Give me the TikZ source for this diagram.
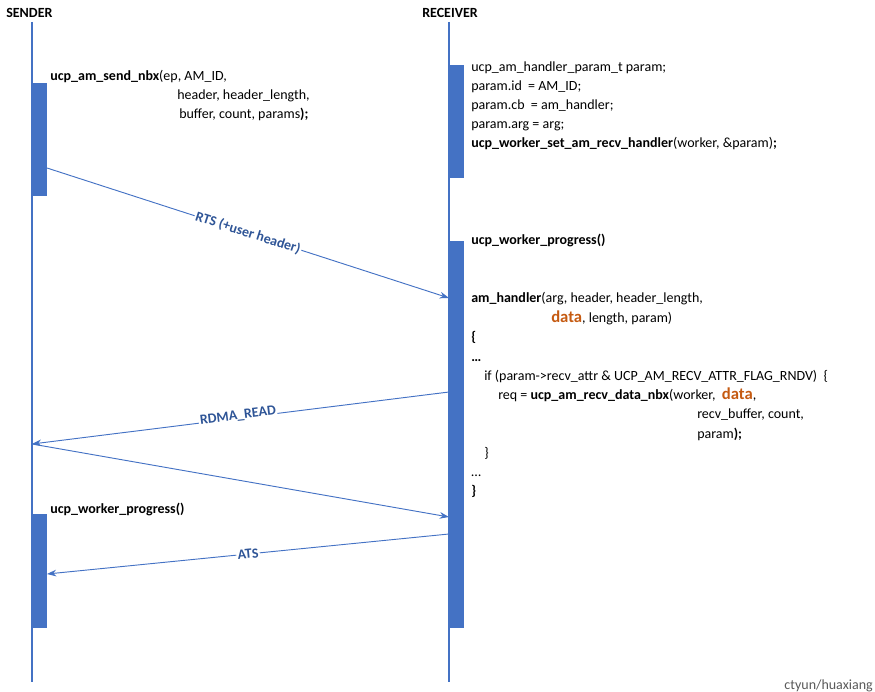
\documentclass[tikz,border=0pt]{standalone}
\usepackage{fontspec}
\setmainfont{Carlito}
\usetikzlibrary{arrows.meta}
\definecolor{bar}{HTML}{4472C4}
\definecolor{lbl}{HTML}{2F5597}
\definecolor{org}{HTML}{C55A11}
\begin{document}
\begin{tikzpicture}[x=0.75pt,y=-0.75pt,
  life/.style={draw=bar,line width=0.9pt},
  act/.style={fill=bar,draw=none},
  msg/.style={draw=bar,line width=0.7pt,-{Stealth[length=7pt,width=5pt]}},
  txt/.style={anchor=base west,inner sep=0pt,font=\fontsize{10.5pt}{12pt}\selectfont},
  mlbl/.style={font=\bfseries\fontsize{10.5pt}{12pt}\selectfont,text=lbl,fill=white,inner sep=1pt}]
\useasboundingbox (0,0) rectangle (875,692);
\node[txt,font=\bfseries\fontsize{10.5pt}{12pt}\selectfont] (s) at (6,18) {SENDER};
\node[txt,font=\bfseries\fontsize{10.5pt}{12pt}\selectfont] (r) at (422,18) {RECEIVER};
\coordinate (st) at (32,22); \coordinate (sb) at (32,682);
\coordinate (rt) at (449,22); \coordinate (rb) at (449,682);
\draw[life] (st) -- (sb);
\draw[life] (rt) -- (rb);
\fill[act] (32,83) rectangle (47,196);
\fill[act] (32,514) rectangle (47,628);
\fill[act] (449,65) rectangle (464,178);
\fill[act] (449,241) rectangle (464,628);
% sender text
\node[txt] (t1) at (50,80) {\textbf{ucp\_am\_send\_nbx}(ep, AM\_ID,};
\node[txt] (t2) at (177,99) {header, header\_length,};
\node[txt] (t3) at (179,118) {buffer, count, params\textbf{);}};
% receiver text
\node[txt] (r1) at (471,72) {ucp\_am\_handler\_param\_t param;};
\node[txt] (r2) at (471,91) {param.id\ \ = AM\_ID;};
\node[txt] (r3) at (471,109) {param.cb\ \ = am\_handler;};
\node[txt] (r4) at (471,128) {param.arg = arg;};
\node[txt] (r5) at (471,147) {\textbf{ucp\_worker\_set\_am\_recv\_handler}(worker, \&param)\textbf{;}};
\node[txt] (p1) at (471,244) {\textbf{ucp\_worker\_progress()}};
\node[txt] (h1) at (471,302) {\textbf{am\_handler}(arg, header, header\_length,};
\node[txt] (h2) at (551,322) {{\color{org}\bfseries\fontsize{12.5pt}{12pt}\selectfont data}, length, param)};
\node[txt] (h3) at (471,341) {\textbf{\{}};
\node[txt] (h4) at (471,361) {\textbf{…}};
\node[txt] (h5) at (484,380) {if (param->recv\_attr \& UCP\_AM\_RECV\_ATTR\_FLAG\_RNDV)\ \ \{};
\node[txt] (h6) at (498,399) {req = \textbf{ucp\_am\_recv\_data\_nbx}(worker,\ \ {\color{org}\bfseries\fontsize{12.5pt}{12pt}\selectfont data},};
\node[txt] (h7) at (697,418) {recv\_buffer, count,};
\node[txt] (h8) at (697,438) {param\textbf{);}};
\node[txt] (h9) at (484,457) {\}};
\node[txt] (h10) at (471,476) {…};
\node[txt] (h11) at (471,495) {\textbf{\}}};
\node[txt] (p2) at (50,513) {\textbf{ucp\_worker\_progress()}};
% messages
\coordinate (a1) at (47,168); \coordinate (a2) at (449,298);
\coordinate (b1) at (449,392); \coordinate (b2) at (32,444);
\coordinate (c2) at (449,517);
\coordinate (d1) at (449,534); \coordinate (d2) at (47,574);
\draw[msg] (a1) -- (a2);
\draw[msg] (b1) -- (b2);
\draw[msg] (b2) -- (c2);
\draw[msg] (d1) -- (d2);
\node[mlbl,rotate=-17.9] (l1) at (248,233) {RTS (+user header)};
\node[mlbl,rotate=7.1] (l2) at (238,416) {RDMA\_READ};
\node[mlbl,rotate=5.7] (l3) at (248,554) {ATS};
\node[anchor=base east,inner sep=0pt,text=black!65,font=\fontsize{10.5pt}{12pt}\selectfont] (w) at (873,689) {ctyun/huaxiang};
\end{tikzpicture}
\end{document}
